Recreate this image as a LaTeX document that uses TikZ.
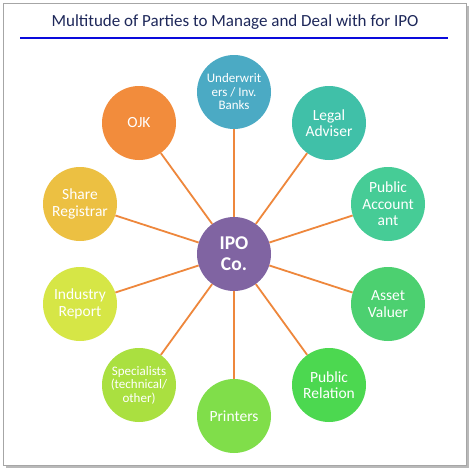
\documentclass[tikz,border=0pt]{standalone}
\usepackage{fontspec}
\setmainfont{Carlito}
\usetikzlibrary{positioning}

\definecolor{titlenavy}{RGB}{30,40,90}
\definecolor{rulerblue}{RGB}{10,10,220}
\definecolor{linkorange}{RGB}{238,135,60}
\definecolor{ipopurple}{RGB}{128,100,162}
\definecolor{cUnder}{RGB}{75,170,196}
\definecolor{cLegal}{RGB}{64,192,168}
\definecolor{cAccount}{RGB}{70,204,150}
\definecolor{cAsset}{RGB}{76,208,112}
\definecolor{cRelation}{RGB}{76,216,80}
\definecolor{cPrinter}{RGB}{128,222,74}
\definecolor{cSpecial}{RGB}{170,224,64}
\definecolor{cIndustry}{RGB}{214,230,70}
\definecolor{cShare}{RGB}{236,192,66}
\definecolor{cOjk}{RGB}{242,140,60}

\begin{document}
\begin{tikzpicture}[x=1pt,y=-1pt,
    party/.style={circle,minimum size=74pt,inner sep=0pt,text=white,align=center,
      font=\fontsize{15.5}{16.5}\selectfont},
    smallparty/.style={party,font=\fontsize{13}{13.5}\selectfont},
    hub/.style={party,fill=ipopurple,font=\fontsize{19.5}{21}\selectfont\bfseries},
    link/.style={draw=linkorange,line width=1.8pt}]
  \useasboundingbox (0,0) rectangle (474,474);
  % frame with shadow
  \fill[gray!55] (6,6) rectangle (469,468);
  \draw[gray!70,fill=white] (3,3) rectangle (466,465);
  % title
  \node[text=titlenavy,font=\fontsize{17}{19}\selectfont] (title) at (235,22) {Multitude of Parties to Manage and Deal with for IPO};
  \draw[rulerblue,line width=2pt] (20,38) -- (448,38);
  % hub
  \node[hub] (ipo) at (234,254) {IPO\\Co.};
  % parties
  \node[smallparty,fill=cUnder] (under) at (234,92) {Underwrit\\ers / Inv.\\Banks};
  \node[party,fill=cLegal] (legal) at (329,123) {Legal\\Adviser};
  \node[party,fill=cAccount] (account) at (388,204) {Public\\Account\\ant};
  \node[party,fill=cAsset] (asset) at (388,304) {Asset\\Valuer};
  \node[party,fill=cRelation] (relation) at (329,385) {Public\\Relation};
  \node[party,fill=cPrinter] (printer) at (234,416) {Printers};
  \node[smallparty,fill=cSpecial] (special) at (139,385) {Specialists\\(technical/\\other)};
  \node[party,fill=cIndustry] (industry) at (80,304) {Industry\\Report};
  \node[party,fill=cShare] (share) at (80,204) {Share\\Registrar};
  \node[party,fill=cOjk] (ojk) at (139,123) {OJK};
  % links
  \draw[link] (ipo) -- (under);
  \draw[link] (ipo) -- (legal);
  \draw[link] (ipo) -- (account);
  \draw[link] (ipo) -- (asset);
  \draw[link] (ipo) -- (relation);
  \draw[link] (ipo) -- (printer);
  \draw[link] (ipo) -- (special);
  \draw[link] (ipo) -- (industry);
  \draw[link] (ipo) -- (share);
  \draw[link] (ipo) -- (ojk);
\end{tikzpicture}
\end{document}
